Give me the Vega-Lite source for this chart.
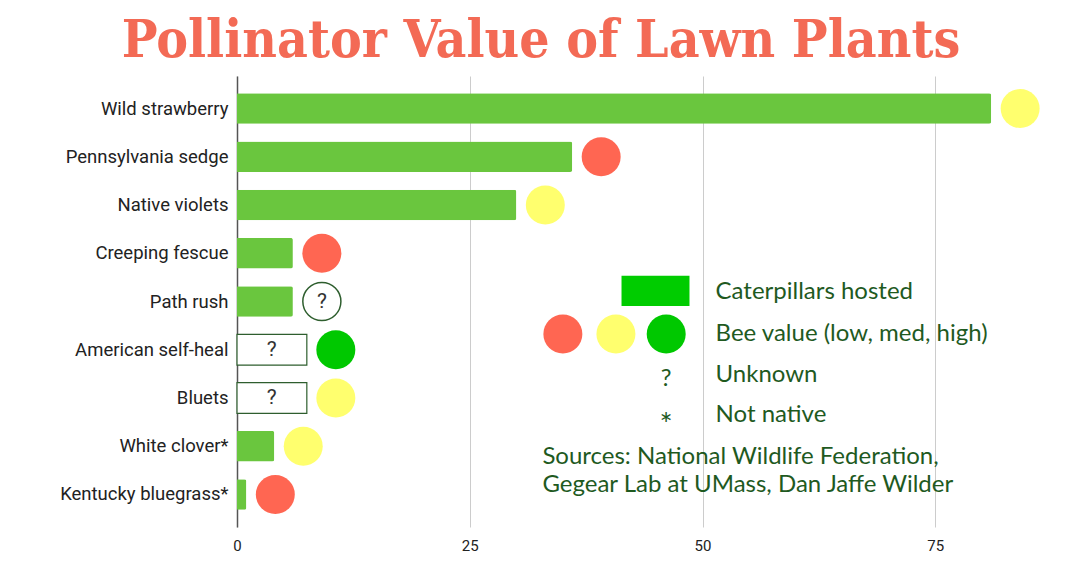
{
  "$schema": "https://vega.github.io/schema/vega-lite/v6.json",
  "width": 810,
  "height": 451,
  "autosize": "none",
  "padding": {"left": 237, "top": 76, "right": 33, "bottom": 39},
  "background": "white",
  "title": {
    "text": "Pollinator Value of Lawn Plants",
    "anchor": "middle",
    "dx": -101,
    "dy": 50,
    "offset": 16,
    "baseline": "alphabetic",
    "font": "DejaVu Serif Condensed",
    "fontWeight": "bold",
    "fontSize": 53,
    "color": "#F36A55"
  },
  "datasets": {
    "plants": [
      {"plant": "Wild strawberry", "bar": 81, "known": true, "bee": "med"},
      {"plant": "Pennsylvania sedge", "bar": 36, "known": true, "bee": "low"},
      {"plant": "Native violets", "bar": 30, "known": true, "bee": "med"},
      {"plant": "Creeping fescue", "bar": 6, "known": true, "bee": "low"},
      {"plant": "Path rush", "bar": 6, "known": true, "bee": "unknown"},
      {"plant": "American self-heal", "bar": 7.5, "known": false, "bee": "high"},
      {"plant": "Bluets", "bar": 7.5, "known": false, "bee": "med"},
      {"plant": "White clover*", "bar": 4, "known": true, "bee": "med"},
      {"plant": "Kentucky bluegrass*", "bar": 1, "known": true, "bee": "low"}
    ],
    "legendRect": [{"x": 41.3, "x2": 48.6, "y": 44.3, "y2": 51.0}],
    "legendDots": [
      {"x": 35.0, "y": 57.2, "bee": "low"},
      {"x": 40.7, "y": 57.2, "bee": "med"},
      {"x": 46.1, "y": 57.2, "bee": "high"}
    ],
    "legendSymbols": [
      {"x": 46.1, "y": 67.2, "symbol": "?", "size": "small"},
      {"x": 46.1, "y": 77.5, "symbol": "*", "size": "large"}
    ],
    "legendText": [
      {"x": 51.4, "y": 47.9, "label": "Caterpillars hosted"},
      {"x": 51.4, "y": 57.2, "label": "Bee value (low, med, high)"},
      {"x": 51.4, "y": 66.3, "label": "Unknown"},
      {"x": 51.4, "y": 75.2, "label": "Not native"},
      {"x": 32.8, "y": 84.5, "label": "Sources: National Wildlife Federation,"},
      {"x": 32.8, "y": 90.7, "label": "Gegear Lab at UMass, Dan Jaffe Wilder"}
    ]
  },
  "layer": [
    {
      "data": {"name": "plants"},
      "encoding": {
        "y": {
          "field": "plant",
          "type": "nominal",
          "sort": ["Wild strawberry", "Pennsylvania sedge", "Native violets", "Creeping fescue", "Path rush", "American self-heal", "Bluets", "White clover*", "Kentucky bluegrass*"],
          "scale": {"paddingInner": 0.366, "paddingOuter": 0.357},
          "axis": {
            "title": null,
            "ticks": false,
            "domain": true,
            "domainColor": "#555555",
            "domainWidth": 1.5,
            "labelFont": "Roboto",
            "labelFontSize": 18.5,
            "labelColor": "#222222",
            "labelPadding": 9
          }
        },
        "x": {
          "field": "bar",
          "type": "quantitative",
          "scale": {"domain": [0, 87], "nice": false},
          "axis": {
            "title": null,
            "values": [0, 25, 50, 75],
            "grid": true,
            "gridColor": "#cccccc",
            "domain": false,
            "ticks": false,
            "labelFlush": false,
            "labelFont": "Roboto",
            "labelFontSize": 15,
            "labelColor": "#222222",
            "labelPadding": 11
          }
        }
      },
      "layer": [
        {
          "transform": [{"filter": "datum.known"}],
          "mark": {"type": "bar", "color": "#6AC63E", "cornerRadiusEnd": 2}
        },
        {
          "transform": [{"filter": "!datum.known"}],
          "mark": {"type": "bar", "fill": "white", "stroke": "#2E5E2E", "strokeWidth": 1.2}
        },
        {
          "transform": [{"filter": "!datum.known"}],
          "mark": {"type": "text", "text": "?", "dx": -35, "font": "Roboto", "fontSize": 21, "color": "#333333", "baseline": "middle"}
        },
        {
          "transform": [{"filter": "datum.bee != 'unknown'"}],
          "mark": {"type": "circle", "size": 1520, "opacity": 1, "xOffset": 29},
          "encoding": {
            "color": {
              "field": "bee",
              "type": "nominal",
              "scale": {"domain": ["low", "med", "high"], "range": ["#FF6652", "#FFFF6E", "#00C800"]},
              "legend": null
            }
          }
        },
        {
          "transform": [{"filter": "datum.bee == 'unknown'"}],
          "mark": {"type": "circle", "size": 1450, "opacity": 1, "fill": "white", "stroke": "#2E5E2E", "strokeWidth": 1.5, "xOffset": 29}
        },
        {
          "transform": [{"filter": "datum.bee == 'unknown'"}],
          "mark": {"type": "text", "text": "?", "dx": 29, "font": "Roboto", "fontSize": 21, "color": "#333333", "baseline": "middle"}
        }
      ]
    },
    {
      "layer": [
        {
          "data": {"name": "legendRect"},
          "mark": {"type": "rect", "color": "#00CC00"},
          "encoding": {
            "x": {"field": "x", "type": "quantitative"},
            "x2": {"field": "x2"},
            "y": {"field": "y", "type": "quantitative", "scale": {"domain": [0, 100], "reverse": true, "nice": false}, "axis": null},
            "y2": {"field": "y2"}
          }
        },
        {
          "data": {"name": "legendDots"},
          "mark": {"type": "circle", "size": 1520, "opacity": 1},
          "encoding": {
            "x": {"field": "x", "type": "quantitative"},
            "y": {"field": "y", "type": "quantitative", "axis": null},
            "color": {
              "field": "bee",
              "type": "nominal",
              "scale": {"domain": ["low", "med", "high"], "range": ["#FF6652", "#FFFF6E", "#00C800"]},
              "legend": null
            }
          }
        },
        {
          "data": {"name": "legendSymbols"},
          "mark": {"type": "text", "font": "Lato", "color": "#1F5A1F", "align": "center", "baseline": "middle"},
          "encoding": {
            "x": {"field": "x", "type": "quantitative"},
            "y": {"field": "y", "type": "quantitative", "axis": null},
            "text": {"field": "symbol"},
            "size": {"field": "size", "type": "nominal", "scale": {"domain": ["small", "large"], "range": [24, 31]}, "legend": null}
          }
        },
        {
          "data": {"name": "legendText"},
          "mark": {"type": "text", "font": "Lato", "fontSize": 24, "color": "#1F5A1F", "align": "left", "baseline": "middle"},
          "encoding": {
            "x": {"field": "x", "type": "quantitative"},
            "y": {"field": "y", "type": "quantitative", "axis": null},
            "text": {"field": "label"}
          }
        }
      ]
    }
  ],
  "resolve": {"scale": {"y": "independent"}},
  "config": {"view": {"stroke": null}}
}
